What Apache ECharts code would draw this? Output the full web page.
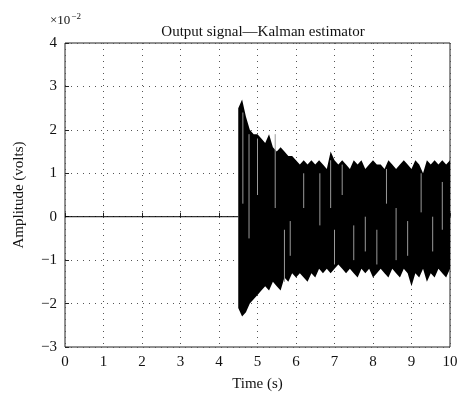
<!DOCTYPE html>
<html><head><meta charset="utf-8">
<script src="https://cdn.jsdelivr.net/npm/echarts@6/dist/echarts.min.js"></script>
<style>html,body{margin:0;background:#fff}#c{width:474px;height:409px}</style>
</head><body><div id="c"></div>
<script>
// time samples (s) from 4.5 to 10, amplitudes in units of 1e-2 V
const times = [4.5,4.6,4.7,4.8,4.9,5.0,5.1,5.2,5.3,5.4,5.5,5.6,5.7,5.8,5.9,6.0,6.1,6.2,6.3,6.4,6.5,6.6,6.7,6.8,6.9,7.0,7.1,7.2,7.3,7.4,7.5,7.6,7.7,7.8,7.9,8.0,8.1,8.2,8.3,8.4,8.5,8.6,8.7,8.8,8.9,9.0,9.1,9.2,9.3,9.4,9.5,9.6,9.7,9.8,9.9,10.0]
const upper = [2.5,2.7,2.3,2.0,1.9,1.9,1.8,1.7,1.9,1.6,1.5,1.6,1.5,1.4,1.4,1.3,1.2,1.3,1.2,1.3,1.2,1.3,1.2,1.1,1.5,1.3,1.2,1.3,1.2,1.1,1.3,1.2,1.3,1.1,1.2,1.3,1.2,1.2,1.1,1.3,1.2,1.1,1.2,1.3,1.2,1.1,1.3,1.2,1.0,1.3,1.2,1.3,1.2,1.3,1.2,1.3]
const lower = [-2.1,-2.3,-2.2,-2.0,-1.9,-1.8,-1.7,-1.6,-1.7,-1.5,-1.6,-1.7,-1.4,-1.5,-1.3,-1.4,-1.3,-1.4,-1.5,-1.3,-1.4,-1.2,-1.3,-1.2,-1.3,-1.2,-1.1,-1.2,-1.3,-1.2,-1.3,-1.4,-1.2,-1.3,-1.2,-1.4,-1.3,-1.2,-1.3,-1.4,-1.2,-1.3,-1.4,-1.2,-1.3,-1.6,-1.3,-1.4,-1.2,-1.5,-1.3,-1.4,-1.2,-1.3,-1.4,-1.2]
// visible grey spikes: [time, from, to]
const spikes = [[4.62,0.3,2.4],[4.78,-0.5,1.9],[5.0,0.5,1.8],[5.46,0.2,1.9],[5.85,-0.9,-0.1],[6.2,0.2,1.0],[6.62,-0.2,1.0],[7.0,-0.3,-1.1],[7.2,0.5,1.2],[7.5,-1.0,-0.2],[7.8,0.0,-0.8],[8.1,-1.1,-0.3],[8.35,0.3,1.1],[8.6,-1.0,0.2],[8.9,-0.9,-0.1],[9.25,0.1,1.0],[9.55,-0.8,0.0],[9.8,-0.3,0.8],[5.7,-1.5,-0.3],[6.9,0.2,1.3]]
const quiet = [[0,0],[4.5,0]]

const font = 'Liberation Serif'
const chart = echarts.init(document.getElementById('c'))
const band = times.map((t,i)=>[t,upper[i],lower[i]])
chart.setOption({
  animation:false,
  title:{text:'Output signal\u2014Kalman estimator',left:258,top:20,textAlign:'center',
    textStyle:{fontFamily:font,fontSize:15,fontWeight:'normal',color:'#111'}},
  graphic:[{type:'text',left:50,top:12,style:{text:'\u00d710{s|\u22122}',fontFamily:font,fontSize:13,fill:'#111',
    rich:{s:{fontFamily:font,fontSize:9,padding:[0,0,8,1],fill:'#111'}}}}],
  grid:{left:65,right:24,top:43,bottom:62,show:true,borderColor:'#222',borderWidth:1},
  xAxis:{type:'value',min:0,max:10,interval:1,name:'Time (s)',nameLocation:'middle',nameGap:30,
    nameTextStyle:{fontFamily:font,fontSize:15,color:'#111'},
    axisLine:{show:false},axisTick:{inside:true,length:4,lineStyle:{color:'#222'}},
    axisLabel:{fontFamily:font,fontSize:15,color:'#111',margin:8},
    splitLine:{lineStyle:{type:[1,5],color:'#555'}}},
  yAxis:{type:'value',min:-3,max:4,interval:1,name:'Amplitude (volts)',nameLocation:'middle',nameGap:38,
    nameTextStyle:{fontFamily:font,fontSize:15,color:'#111'},
    axisLine:{show:false},axisTick:{inside:true,length:4,lineStyle:{color:'#222'}},
    axisLabel:{fontFamily:font,fontSize:15,color:'#111',formatter:v=>v<0?'\u2212'+(-v):''+v},
    splitLine:{lineStyle:{type:[1,5],color:'#555'}}},
  series:[
    {type:'line',data:quiet,symbol:'none',lineStyle:{color:'#000',width:1}},
    {type:'custom',data:band,encode:{x:0,y:[1,2]},
      renderItem:function(params,api){
        if(params.dataIndex!==0) return
        const top=band.map(d=>api.coord([d[0],d[1]]))
        const bot=band.map(d=>api.coord([d[0],d[2]])).reverse()
        return {type:'polygon',shape:{points:top.concat(bot)},style:{fill:'#000'}}
      }},
    {type:'custom',data:spikes,encode:{x:0,y:[1,2]},
      renderItem:function(params,api){
        const a=api.coord([api.value(0),api.value(1)]),b=api.coord([api.value(0),api.value(2)])
        return {type:'line',shape:{x1:a[0],y1:a[1],x2:b[0],y2:b[1]},style:{stroke:'#999',lineWidth:1}}
      }}
  ]
})
</script></body></html>
